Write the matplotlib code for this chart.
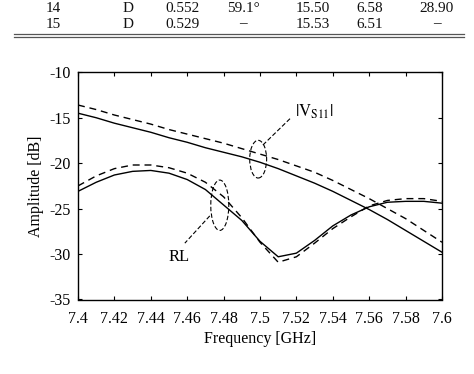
import matplotlib
matplotlib.use("Agg")
import matplotlib.pyplot as plt
from matplotlib.patches import Ellipse
import numpy as np

plt.rcParams['font.family'] = ['Liberation Serif', 'DejaVu Serif']
plt.rcParams['mathtext.fontset'] = 'stix'
plt.rcParams['axes.unicode_minus'] = False

# frequency samples [GHz]
freq = [7.40, 7.41, 7.42, 7.43, 7.44, 7.45, 7.46, 7.47, 7.48, 7.49, 7.50,
        7.51, 7.52, 7.53, 7.54, 7.55, 7.56, 7.57, 7.58, 7.59, 7.60]

# |Vs11| [dB]
vs11_solid = [-14.5, -15.0, -15.6, -16.1, -16.6, -17.2, -17.7, -18.3, -18.8, -19.3, -19.9,
              -20.6, -21.4, -22.2, -23.1, -24.1, -25.1, -26.2, -27.4, -28.6, -29.8]
vs11_dashed = [-13.6, -14.1, -14.7, -15.2, -15.7, -16.3, -16.8, -17.3, -17.8, -18.4, -19.0,
               -19.6, -20.3, -21.0, -21.9, -22.9, -23.9, -25.0, -26.1, -27.4, -28.7]

# RL [dB]
rl_solid = [-23.1, -22.1, -21.3, -20.9, -20.8, -21.1, -21.8, -22.9, -24.6, -26.3, -28.6,
            -30.3, -29.9, -28.5, -26.9, -25.7, -24.8, -24.3, -24.2, -24.2, -24.4]
rl_dashed = [-22.5, -21.4, -20.6, -20.2, -20.2, -20.5, -21.1, -22.1, -23.7, -26.0, -28.7,
             -30.9, -30.3, -28.8, -27.2, -25.9, -24.7, -24.1, -23.9, -23.9, -24.2]

xticks = [7.4, 7.42, 7.44, 7.46, 7.48, 7.5, 7.52, 7.54, 7.56, 7.58, 7.6]
xtick_labels = ['7.4', '7.42', '7.44', '7.46', '7.48', '7.5', '7.52', '7.54', '7.56', '7.58', '7.6']
yticks = [-35, -30, -25, -20, -15, -10]

# table rows above the figure (from the scanned page)
row14 = ['14', 'D', '0.552', '59.1\u00b0', '15.50', '6.58', '28.90']
row15 = ['15', 'D', '0.529', '\u2013', '15.53', '6.51', '\u2013']
col_x = [53, 128, 183, 243, 313, 370, 437]

W, H = 474, 374
fig = plt.figure(figsize=(W / 100, H / 100), dpi=100)

# table text
for row, y in [(row14, 8), (row15, 24)]:
    for txt, x in zip(row, col_x):
        fig.text(x / W, 1 - y / H, txt, ha='center', va='center', fontsize=11, color='#111111')
for y in [34, 36.5]:
    fig.add_artist(plt.Line2D([14 / W, 464 / W], [1 - y / H, 1 - y / H], color='#555555', lw=0.9))

ax = fig.add_axes([78 / W, 1 - 299.5 / H, (442 - 78) / W, (299.5 - 72.3) / H])

ax.plot(freq, vs11_solid, color='black', lw=1.0)
ax.plot(freq, vs11_dashed, color='black', lw=1.0, dashes=(5, 3.5))
ax.plot(freq, rl_solid, color='black', lw=1.0)
ax.plot(freq, rl_dashed, color='black', lw=1.0, dashes=(5, 3.5))

ax.set_xlim(7.4, 7.6)
ax.set_ylim(-35, -10)
ax.set_xticks(xticks)
ax.set_xticklabels(xtick_labels)
ax.set_yticks(yticks)
ax.set_yticklabels([str(v) for v in yticks])
ax.tick_params(direction='in', top=True, right=True, length=3, width=0.8, labelsize=11.5)
ax.tick_params(axis='x', pad=8)
ax.tick_params(axis='y', pad=5)
for s in ax.spines.values():
    s.set_linewidth(1.0)

ax.set_xlabel('Frequency [GHz]', fontsize=11.5, labelpad=3)
ax.set_ylabel('Amplitude [dB]', fontsize=11.5, labelpad=4)

# annotations
ax.add_patch(Ellipse((7.499, -19.56), 0.0093, 4.15, fill=False, ls=(0, (4, 2)), lw=0.8, color='black'))
ax.plot([7.5016, 7.5165], [-18.0, -15.1], color='black', lw=0.8, dashes=(4, 2))
ax.text(7.5195, -14.4, r'$|\mathrm{V}_{\mathrm{S11}}|$', fontsize=12, ha='left', va='center')

ax.add_patch(Ellipse((7.4779, -24.63), 0.0099, 5.54, fill=False, ls=(0, (4, 2)), lw=0.8, color='black'))
ax.plot([7.4724, 7.4587], [-25.8, -28.8], color='black', lw=0.8, dashes=(4, 2))
ax.text(7.4555, -30.3, 'RL', fontsize=12, ha='center', va='center')

fig.savefig('out.png', dpi=100)
